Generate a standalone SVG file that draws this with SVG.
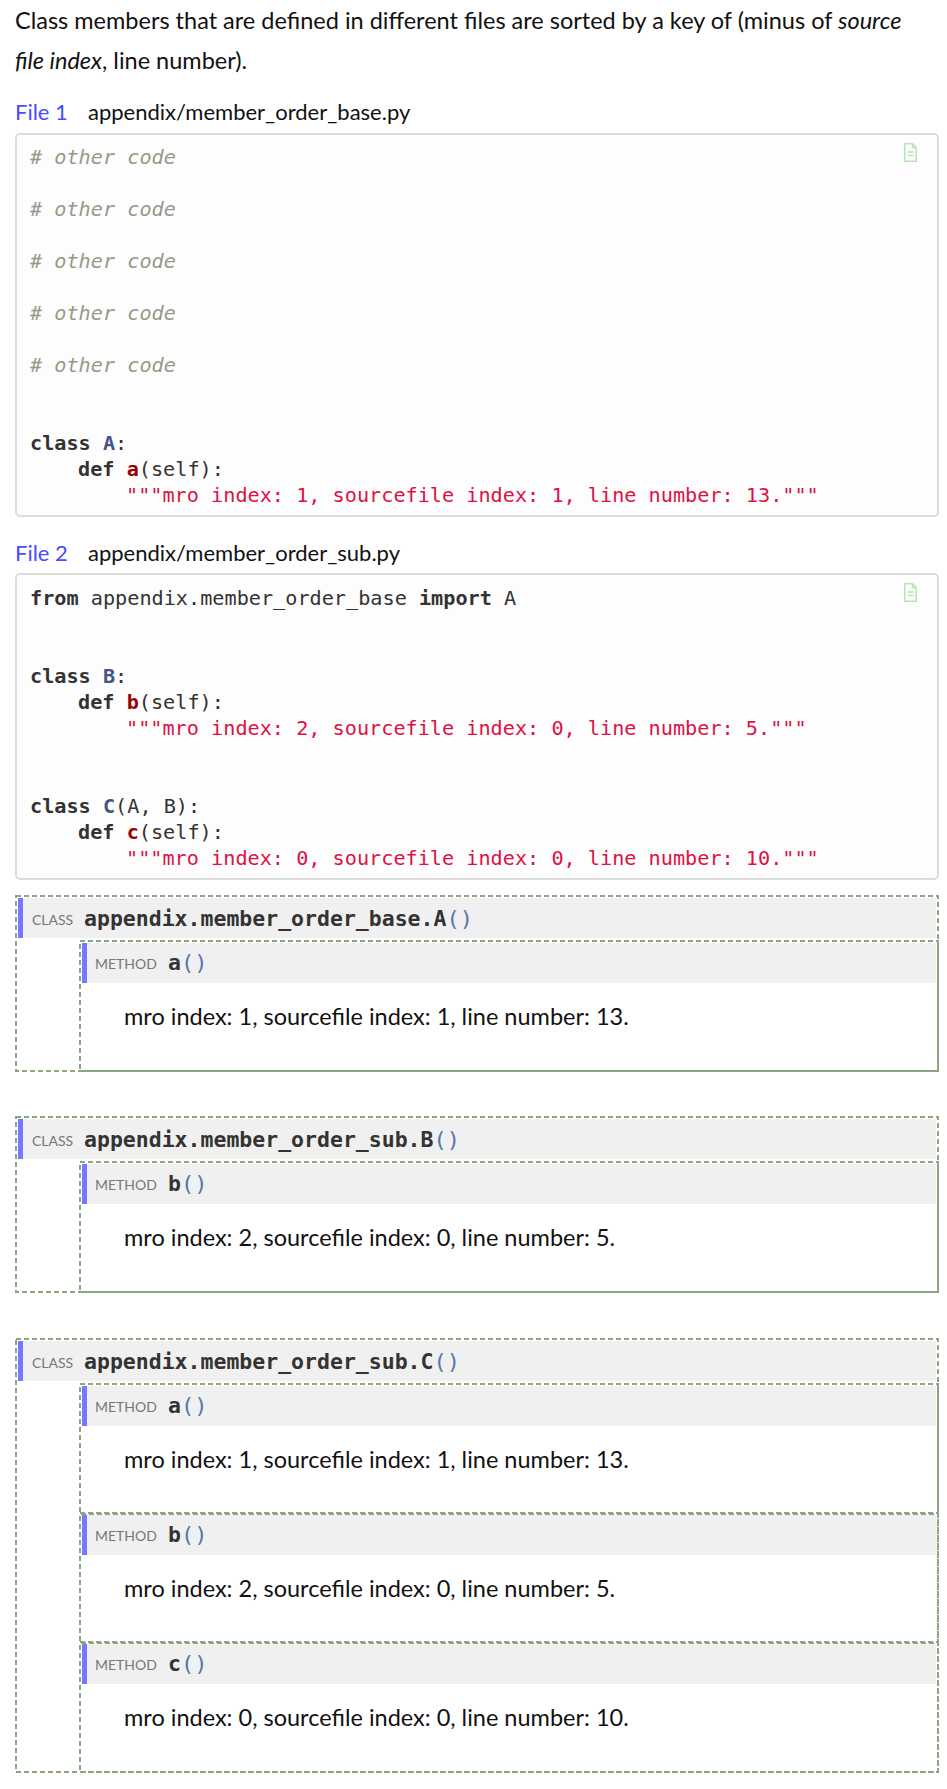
<svg xmlns="http://www.w3.org/2000/svg" width="947" height="1789" viewBox="0 0 947 1789">
<style>
.p{font-family:Lato,"Open Sans","Liberation Sans",sans-serif;font-size:23.5px;fill:#111}
.fl{font-family:Lato,"Liberation Sans",sans-serif;font-size:22px;fill:#4b4bff}
.fp{font-family:Lato,"Liberation Sans",sans-serif;font-size:22px;fill:#111}
.cb{fill:#fdfdfd;stroke:#dcdcdc;stroke-width:2}
.c{font-family:"DejaVu Sans Mono","Liberation Mono",monospace;font-size:20.2px;fill:#333;white-space:pre}
.cm{fill:#999988;font-style:italic}
.kw{font-weight:bold;fill:#333}
.cn{font-weight:bold;fill:#445588}
.fn{font-weight:bold;fill:#990000}
.st{fill:#dd1144}
.box{fill:none;stroke:#8aa77f;stroke-width:2;stroke-dasharray:5 3}
.hd{fill:#f0f0f0}
.bar{fill:#7777ff}
.tag{font-family:Lato,"Liberation Sans",sans-serif;font-size:14px;fill:#777}
.nm{font-family:"DejaVu Sans Mono","Liberation Mono",monospace;font-size:21.5px;font-weight:bold;fill:#333}
.pr{font-family:"DejaVu Sans Mono",monospace;font-size:22px;fill:#5577aa}
.icon{fill:none;stroke:#b5e6b0;stroke-width:1.5}
</style>
<defs>
<g id="ic"><path class="icon" d="M0.75,0.75 H8.5 L12.25,4.5 V18.25 H0.75 Z M8.5,0.75 V4.5 H12.25 M3.5,9 H9.5 M3.5,12.5 H9.5"/></g>
</defs>
<g id="intro">
<text class="p" x="15" y="29">Class members that are defined in different files are sorted by a key of (minus of <tspan font-style="italic">source</tspan></text>
<text class="p" x="15" y="69"><tspan font-style="italic">file index</tspan>, line number).</text>
</g>
<g id="file1">
<text x="15" y="120"><tspan class="fl">File 1</tspan><tspan class="fp" x="88">appendix/member_order_base.py</tspan></text>
<rect class="cb" x="16" y="134" width="922" height="382" rx="4"/>
<use href="#ic" x="904" y="143"/>
<text class="c" x="30" y="164"><tspan class="cm"># other code</tspan></text>
<text class="c" x="30" y="216"><tspan class="cm"># other code</tspan></text>
<text class="c" x="30" y="268"><tspan class="cm"># other code</tspan></text>
<text class="c" x="30" y="320"><tspan class="cm"># other code</tspan></text>
<text class="c" x="30" y="372"><tspan class="cm"># other code</tspan></text>
<text class="c" x="30" y="450"><tspan class="kw">class</tspan> <tspan class="cn">A</tspan>:</text>
<text class="c" x="78" y="476"><tspan class="kw">def</tspan> <tspan class="fn">a</tspan>(self):</text>
<text class="c" x="126" y="502"><tspan class="st">"""mro index: 1, sourcefile index: 1, line number: 13."""</tspan></text>
</g>
<g id="file2">
<text x="15" y="561"><tspan class="fl">File 2</tspan><tspan class="fp" x="88">appendix/member_order_sub.py</tspan></text>
<rect class="cb" x="16" y="574" width="922" height="305" rx="4"/>
<use href="#ic" x="904" y="583"/>
<text class="c" x="30" y="605"><tspan class="kw">from</tspan> appendix.member_order_base <tspan class="kw">import</tspan> A</text>
<text class="c" x="30" y="683"><tspan class="kw">class</tspan> <tspan class="cn">B</tspan>:</text>
<text class="c" x="78" y="709"><tspan class="kw">def</tspan> <tspan class="fn">b</tspan>(self):</text>
<text class="c" x="126" y="735"><tspan class="st">"""mro index: 2, sourcefile index: 0, line number: 5."""</tspan></text>
<text class="c" x="30" y="813"><tspan class="kw">class</tspan> <tspan class="cn">C</tspan>(A, B):</text>
<text class="c" x="78" y="839"><tspan class="kw">def</tspan> <tspan class="fn">c</tspan>(self):</text>
<text class="c" x="126" y="865"><tspan class="st">"""mro index: 0, sourcefile index: 0, line number: 10."""</tspan></text>
</g>
<g id="classA" transform="translate(0,896)">
<rect class="box" x="16" y="0" width="922" height="175"/>
<rect class="hd" x="18" y="2" width="918" height="40"/><rect class="bar" x="18" y="2" width="5" height="40"/>
<text x="32" y="29"><tspan class="tag">CLASS</tspan><tspan class="nm" x="84" dy="1">appendix.member_order_base.A</tspan><tspan class="pr">()</tspan></text>
<g id="classA-a">
<rect class="box" x="80" y="45" width="858" height="130"/>
<rect class="hd" x="82" y="47" width="854" height="40"/><rect class="bar" x="82" y="47" width="5" height="40"/>
<text x="95" y="73"><tspan class="tag">METHOD</tspan><tspan class="nm" x="168" dy="1">a</tspan><tspan class="pr">()</tspan></text>
<text class="p" x="124" y="129">mro index: 1, sourcefile index: 1, line number: 13.</text>
</g>
</g>
<g id="classB" transform="translate(0,1117)">
<rect class="box" x="16" y="0" width="922" height="175"/>
<rect class="hd" x="18" y="2" width="918" height="40"/><rect class="bar" x="18" y="2" width="5" height="40"/>
<text x="32" y="29"><tspan class="tag">CLASS</tspan><tspan class="nm" x="84" dy="1">appendix.member_order_sub.B</tspan><tspan class="pr">()</tspan></text>
<g id="classB-b">
<rect class="box" x="80" y="45" width="858" height="130"/>
<rect class="hd" x="82" y="47" width="854" height="40"/><rect class="bar" x="82" y="47" width="5" height="40"/>
<text x="95" y="73"><tspan class="tag">METHOD</tspan><tspan class="nm" x="168" dy="1">b</tspan><tspan class="pr">()</tspan></text>
<text class="p" x="124" y="129">mro index: 2, sourcefile index: 0, line number: 5.</text>
</g>
</g>
<g id="classC" transform="translate(0,1339)">
<rect class="box" x="16" y="0" width="922" height="433"/>
<rect class="hd" x="18" y="2" width="918" height="40"/><rect class="bar" x="18" y="2" width="5" height="40"/>
<text x="32" y="29"><tspan class="tag">CLASS</tspan><tspan class="nm" x="84" dy="1">appendix.member_order_sub.C</tspan><tspan class="pr">()</tspan></text>
<g id="classC-a">
<rect class="box" x="80" y="45" width="858" height="130"/>
<rect class="hd" x="82" y="47" width="854" height="40"/><rect class="bar" x="82" y="47" width="5" height="40"/>
<text x="95" y="73"><tspan class="tag">METHOD</tspan><tspan class="nm" x="168" dy="1">a</tspan><tspan class="pr">()</tspan></text>
<text class="p" x="124" y="129">mro index: 1, sourcefile index: 1, line number: 13.</text>
</g>
<g id="classC-b">
<rect class="box" x="80" y="174" width="858" height="130"/>
<rect class="hd" x="82" y="176" width="854" height="40"/><rect class="bar" x="82" y="176" width="5" height="40"/>
<text x="95" y="202"><tspan class="tag">METHOD</tspan><tspan class="nm" x="168" dy="1">b</tspan><tspan class="pr">()</tspan></text>
<text class="p" x="124" y="258">mro index: 2, sourcefile index: 0, line number: 5.</text>
</g>
<g id="classC-c">
<rect class="box" x="80" y="303" width="858" height="130"/>
<rect class="hd" x="82" y="305" width="854" height="40"/><rect class="bar" x="82" y="305" width="5" height="40"/>
<text x="95" y="331"><tspan class="tag">METHOD</tspan><tspan class="nm" x="168" dy="1">c</tspan><tspan class="pr">()</tspan></text>
<text class="p" x="124" y="387">mro index: 0, sourcefile index: 0, line number: 10.</text>
</g>
</g>
<g id="connectors"/>
</svg>
